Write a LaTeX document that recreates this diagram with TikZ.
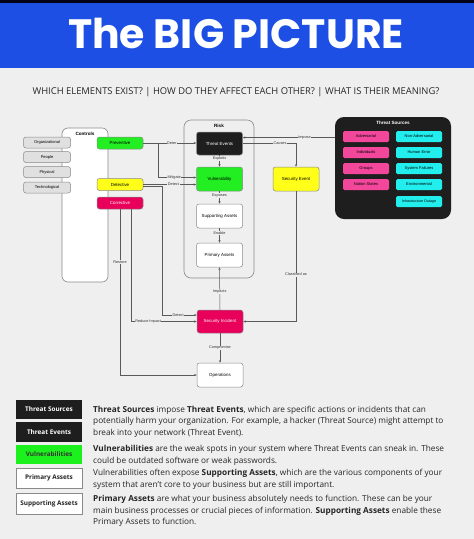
\documentclass[tikz,border=0pt]{standalone}
\usepackage{fontspec}
\setmainfont{Open Sans}
\newfontfamily\poppins{Poppins}
\newfontfamily\arialf{Liberation Sans}
\usetikzlibrary{arrows.meta,calc}
\definecolor{bg}{HTML}{EFEFEF}
\definecolor{blueband}{HTML}{1D4FE4}
\definecolor{gbox}{HTML}{22EE22}
\definecolor{ybox}{HTML}{FFFF1A}
\definecolor{cbox}{HTML}{E8005A}
\definecolor{pbox}{HTML}{F2479A}
\definecolor{cyanbox}{HTML}{22EEEE}
\definecolor{dark}{HTML}{1E1E1E}
\definecolor{edge}{HTML}{8A8A8A}
\definecolor{wire}{HTML}{5A5A5A}
\definecolor{bodytext}{HTML}{262626}
\tikzset{
 dfont/.style={font=\arialf\fontsize{4.4}{5}\selectfont},
 nd/.style={draw=edge, rounded corners=2.5pt, minimum width=46pt, minimum height=24pt, inner sep=0pt, line width=0.5pt, dfont},
 thinbox/.style={nd, minimum height=12pt},
 lst/.style={nd, minimum width=47pt, minimum height=11pt, fill=black!12, font=\arialf\fontsize{4}{5}\selectfont},
 tsb/.style={nd, minimum height=11pt, rounded corners=1.5pt, draw=none, font=\arialf\fontsize{4}{5}\selectfont},
 frame/.style={draw=edge, line width=0.6pt, inner sep=0pt},
 conn/.style={draw=wire, line width=0.5pt, -{Stealth[length=2.6pt,width=2.2pt]}},
 lbl/.style={fill=bg, inner sep=0.6pt, font=\arialf\fontsize{3.8}{4.5}\selectfont, text=black!80},
 legend/.style={minimum width=66pt, minimum height=19pt, inner sep=0pt, font=\fontsize{6.4}{7}\selectfont\bfseries},
 para/.style={anchor=base west, inner sep=0pt, font=\fontsize{8.25}{9}\selectfont, text=bodytext},
}
\begin{document}
\begin{tikzpicture}[x=1pt,y=-1pt]
\useasboundingbox (0,0) rectangle (474,539);
\fill[bg] (0,0) rectangle (474,539);
\fill[blueband] (0,3) rectangle (474,68);
\fill[black!90!blue] (0,0) rectangle (474,3);
\node[anchor=base, inner sep=0pt, text=white, font=\poppins\bfseries\fontsize{41}{43}\selectfont] (title) at (236,48) {The BIG PICTURE};
\node[anchor=base, inner sep=0pt, text=bodytext, font=\fontsize{9.4}{10}\selectfont] (subtitle) at (236,94) {WHICH ELEMENTS EXIST? | HOW DO THEY AFFECT EACH OTHER? | WHAT IS THEIR MEANING?};

% Controls
\node[frame, fill=white, rounded corners=6pt, minimum width=46pt, minimum height=154pt] (ctrlf) at (85,205) {};
\node[font=\arialf\bfseries\fontsize{4.6}{5}\selectfont, inner sep=0pt] (ctrlt) at (85,134) {Controls};
\node[lst] (org) at (47,142.5) {Organizational};
\node[lst] (ppl) at (47,157) {People};
\node[lst] (phy) at (47,172) {Physical};
\node[lst] (tec) at (47,187.5) {Technological};
\node[thinbox, fill=gbox] (prev) at (120,143) {Preventive};
\node[thinbox, fill=ybox] (det) at (120,184.5) {Detective};
\node[thinbox, fill=cbox, text=white] (cor) at (120,203) {Corrective};

% Risk
\node[frame, rounded corners=7pt, minimum width=70pt, minimum height=158pt] (riskf) at (219,199) {};
\node[font=\arialf\bfseries\fontsize{4.6}{5}\selectfont, inner sep=0pt] (riskt) at (219,126) {Risk};
\node[nd, fill=dark, text=white, minimum height=23pt] (te) at (219.5,143.5) {Threat Events};
\node[nd, fill=gbox] (vul) at (219.5,179) {Vulnerability};
\node[nd, fill=white] (sa) at (219.5,216) {Supporting Assets};
\node[nd, fill=white] (pa) at (219.5,255) {Primary Assets};

\node[nd, fill=ybox] (se) at (296,179) {Security Event};
\node[nd, fill=cbox, text=white, minimum height=23pt] (si) at (220,321.5) {Security Incident};
\node[nd, fill=white] (ops) at (220,375) {Operations};

% Threat sources
\node[draw=none, fill=dark, rounded corners=9pt, minimum width=116pt, minimum height=102pt, inner sep=0pt] (tsf) at (393,168) {};
\node[font=\arialf\bfseries\fontsize{4.6}{5}\selectfont, text=white, inner sep=0pt] (tst) at (393,122.5) {Threat Sources};
\node[tsb, fill=pbox] (adv) at (366,136.5) {Adversarial};
\node[tsb, fill=pbox] (ind) at (366,152.5) {Individuals};
\node[tsb, fill=pbox] (grp) at (366,168.5) {Groups};
\node[tsb, fill=pbox] (nat) at (366,184.5) {Nation States};
\node[tsb, fill=cyanbox] (nadv) at (419,136.5) {Non-Adversarial};
\node[tsb, fill=cyanbox] (hum) at (419,152.5) {Human Error};
\node[tsb, fill=cyanbox] (sys) at (419,168.5) {System Failures};
\node[tsb, fill=cyanbox] (env) at (419,184.5) {Environmental};
\node[tsb, fill=cyanbox, font=\arialf\fontsize{3.6}{4.5}\selectfont] (inf) at (419,201.5) {Infrastructure Outage};

% connectors
\coordinate (imp) at ([yshift=6pt]te.east);
\draw[conn] (tsf.west |- imp) -- (imp) node[lbl, pos=0.33] {Impose};
\draw[conn] (te.east) -| (se.north) node[lbl, pos=0.35] {Causes};
\draw[conn] (te.south) -- (vul.north) node[lbl, pos=0.3] {Exploits};
\draw[conn] (vul.south) -- (sa.north) node[lbl, pos=0.33] {Exposes};
\draw[conn] (sa.south) -- (pa.north) node[lbl, pos=0.33] {Enable};
\draw[conn] (prev.east) -- (prev.east -| te.west) node[lbl, pos=0.54] {Deter};
\draw[conn] (prev.east) -- ++(15,0) |- ([yshift=1.5pt]vul.west) node[lbl, pos=0.71] {Mitigate};
\draw[conn] (det.east) -- (det.east -| vul.west) node[lbl, pos=0.57] {Detect};
\draw[conn] ([yshift=-2pt]det.east) -- ++(19,0) |- ([yshift=6.5pt]si.west) node[lbl, pos=0.73] {Detect};
\draw[conn] ([xshift=11pt]cor.south) |- (si.west) node[lbl, pos=0.63] {Reduce Impact};
\draw[conn] (cor.south) |- (ops.west) node[lbl, pos=0.16] {Restore};
\draw[conn] (si.north) -- (pa.south) node[lbl, pos=0.42] {Impacts};
\draw[conn] (si.south) -- (ops.north) node[lbl, pos=0.5] {Compromise};
\draw[conn] (se.south) |- (si.east) node[lbl, pos=0.32] {Classified as};

% legend
\node[legend, fill=dark, text=white] (lts) at (49,409) {Threat Sources};
\node[legend, fill=dark, text=white, minimum height=20pt] (lte) at (49,432) {Threat Events};
\node[legend, fill=gbox!85!green, text=black!80] (lvu) at (49,454.5) {Vulnerabilities};
\node[legend, fill=white, draw=edge, text=black!85, minimum height=20pt] (lpa) at (49,478) {Primary Assets};
\node[legend, fill=white, draw=edge, text=black!85, minimum height=21pt] (lsa) at (49,503.5) {Supporting Assets};

\node[para] (p1a) at (93,412) {\textbf{Threat Sources} impose \textbf{Threat Events}, which are specific actions or incidents that can};
\node[para] (p1b) at (93,423.5) {potentially harm your organization. For example, a hacker (Threat Source) might attempt to};
\node[para] (p1c) at (93,435) {break into your network (Threat Event).};
\node[para] (p2a) at (93,451.5) {\textbf{Vulnerabilities} are the weak spots in your system where Threat Events can sneak in. These};
\node[para] (p2b) at (93,463) {could be outdated software or weak passwords.};
\node[para] (p3a) at (93,475.5) {Vulnerabilities often expose \textbf{Supporting Assets}, which are the various components of your};
\node[para] (p3b) at (93,487.5) {system that aren’t core to your business but are still important.};
\node[para] (p4a) at (93,501.5) {\textbf{Primary Assets} are what your business absolutely needs to function. These can be your};
\node[para] (p4b) at (93,513) {main business processes or crucial pieces of information. \textbf{Supporting Assets} enable these};
\node[para] (p4c) at (93,524.5) {Primary Assets to function.};
\end{tikzpicture}
\end{document}
